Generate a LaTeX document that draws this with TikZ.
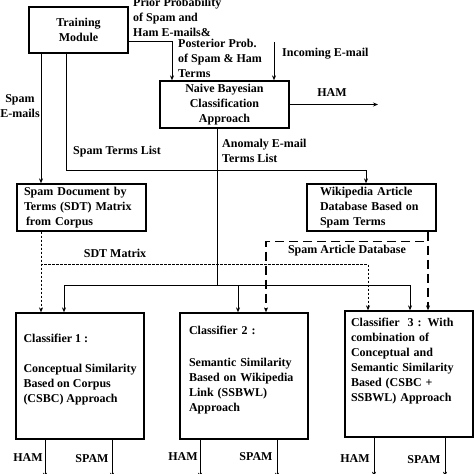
\documentclass[tikz,border=0pt]{standalone}
\usepackage{fontspec}
\setmainfont{Liberation Serif}
\usetikzlibrary{positioning, arrows.meta}

\tikzset{
  box/.style={draw, line width=1.3pt, inner xsep=2pt, inner ysep=1pt, align=left},
  txt/.style={inner sep=0pt, align=left},
  flow/.style={line width=1pt, ->},
  sdtline/.style={line width=0.8pt, dash pattern=on 2.5pt off 1.5pt, ->},
  artline/.style={line width=1.6pt, dash pattern=on 9pt off 5pt, ->},
}

\begin{document}
\begin{tikzpicture}[x=1pt, y=-1pt, >={Stealth[length=5pt,width=4pt]},
    every node/.style={font=\fontsize{12}{15}\selectfont\bfseries}]
    \useasboundingbox (0,0) rectangle (474,474);

    \node[box, minimum width=99pt, minimum height=46pt, align=center] (train) at (78.5,30) {Training\\Module};
    \node[box, minimum width=129pt, minimum height=47pt, align=center] (naive) at (224.5,104.5) {Naive Bayesian\\Classification\\Approach};
    \node[box, minimum height=47pt, text width=115pt, inner xsep=7pt] (sdt) at (81.5,207.5) {Spam Document by\\Terms (SDT) Matrix\\\hspace{2pt}from Corpus};
    \node[box, minimum height=47pt, text width=103pt, inner xsep=13pt] (wiki) at (371.5,207.5) {Wikipedia Article\\Database Based on\\Spam Terms};
    \node[box, minimum width=128pt, minimum height=126pt] (cls1) at (80,376) {Classifier 1 :\\[15pt]Conceptual Similarity\\Based on Corpus\\(CSBC) Approach\\\mbox{}};
    \node[box, minimum height=126pt, text width=110pt, inner xsep=9pt] (cls2) at (244,376) {Classifier 2 :\\[17pt]Semantic Similarity\\Based on Wikipedia\\Link (SSBWL)\\Approach\\[-1pt]\mbox{}};
    \node[box, minimum height=126pt, text width=116pt, inner xsep=6pt] (cls3) at (409,374) {Classifier~ 3 : With\\combination of\\Conceptual and\\Semantic Similarity\\Based (CSBC +\\SSBWL) Approach\\[13pt]\mbox{}};

    \coordinate (inmail) at (274,42);
    \coordinate (hamend) at (378,104.5);

    % labels
    \node[txt, anchor=west] (prior) at (133,17) {Prior Probability\\of Spam and\\Ham E-mails\&};
    \node[txt, anchor=west] (post) at (178,58) {Posterior Prob.\\of Spam \& Ham\\Terms};
    \node[txt, anchor=west] (inlbl) at (282,54) {Incoming E-mail};
    \node[txt] (hamlbl) at (332,93) {HAM};
    \node[txt, align=center] (spamlbl) at (20,106) {Spam\\E-mails};
    \node[txt] (termlbl) at (117,152) {Spam Terms List};
    \node[txt, anchor=west] (anomlbl) at (222,151) {Anomaly E-mail\\Terms List};
    \node[txt] (sdtlbl) at (115,253) {SDT Matrix};
    \node[txt] (artlbl) at (347,251) {Spam Article Database};
    \node[txt] (ham1) at (28,458) {HAM};
    \node[txt] (spam1) at (92,459) {SPAM};
    \node[txt] (ham2) at (183,457) {HAM};
    \node[txt] (spam2) at (256,457) {SPAM};
    \node[txt] (ham3) at (355,459) {HAM};
    \node[txt] (spam3) at (424,460) {SPAM};

    \draw[flow] ([yshift=-11pt]train.east) -| ([xshift=-52.5pt]naive.north);
    \draw[flow] (inmail) -- ([xshift=49.5pt]naive.north);
    \draw[flow] (naive.east) -- (hamend);
    \draw[flow] ([xshift=-37.5pt]train.south) -- ([xshift=-40.5pt]sdt.north);
    \draw[flow] ([xshift=-12.5pt]train.south) -- ++(0,117) -| ([xshift=-5.5pt]wiki.north);

    \draw[line width=1pt] ([xshift=-7.5pt]naive.south) -- ++(0,157) coordinate (bus);
    \draw[flow] (bus) -| ([xshift=-16pt]cls1.north);
    \draw[flow] (bus) -| ([xshift=-6pt]cls2.north);
    \draw[flow] (bus) -| ([xshift=1pt]cls3.north);

    \draw[sdtline] ([xshift=-40.5pt]sdt.south) -- ([xshift=-39pt]cls1.north);
    \draw[sdtline] ([xshift=-40.5pt]sdt.south) -- ++(0,33) -| ([xshift=-41pt]cls3.north);

    \draw[artline] ([xshift=56.5pt]wiki.south) -- ++(0,10) -| ([xshift=22pt]cls2.north);
    \draw[artline] ([xshift=56.5pt]wiki.south) -- ([xshift=19pt]cls3.north);

    \draw[flow] ([xshift=-35pt]cls1.south) -- ++(0,38);
    \draw[flow] ([xshift=32pt]cls1.south) -- ++(0,38);
    \draw[flow] ([xshift=-44pt]cls2.south) -- ++(0,38);
    \draw[flow] ([xshift=33pt]cls2.south) -- ++(0,38);
    \draw[flow] ([xshift=-35pt]cls3.south) -- ++(0,39);
    \draw[flow] ([xshift=36pt]cls3.south) -- ++(0,39);

\end{tikzpicture}
\end{document}
